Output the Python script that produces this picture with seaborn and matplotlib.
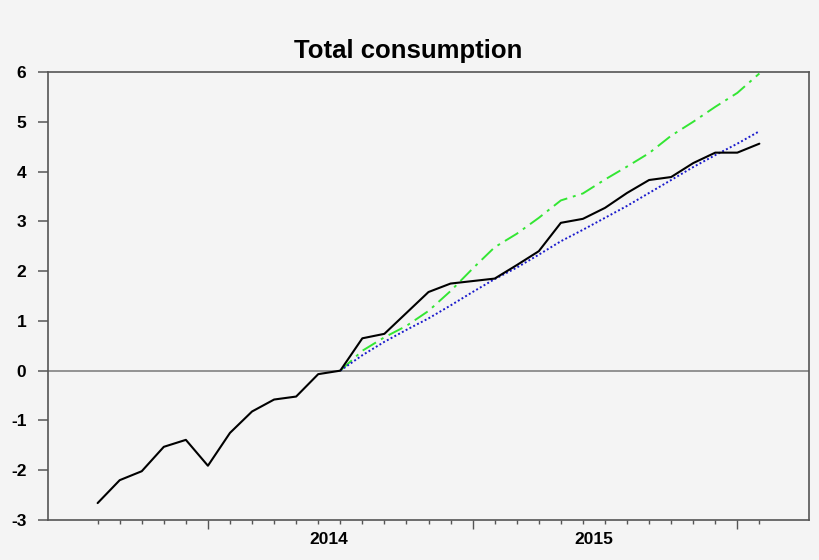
import numpy as np
import pandas as pd
import seaborn as sns
from matplotlib import pyplot as plt
from matplotlib import transforms

# monthly observations, Aug 2013 .. Feb 2016
months = pd.date_range('2013-08-01', '2016-02-01', freq='MS')

actual = [-2.66, -2.20, -2.02, -1.53, -1.39, -1.91, -1.25, -0.82, -0.58, -0.52,
          -0.07, 0.00, 0.65, 0.74, 1.16, 1.58, 1.75, 1.80, 1.85, 2.12,
          2.40, 2.97, 3.05, 3.27, 3.57, 3.83, 3.89, 4.17, 4.38, 4.38, 4.56]

# projections start at Jul 2014
proj_start = 11
proj_green = [0.00, 0.40, 0.67, 0.90, 1.20, 1.60, 2.05, 2.48, 2.75, 3.07,
              3.42, 3.56, 3.84, 4.10, 4.37, 4.72, 5.00, 5.30, 5.58, 5.97]
proj_blue = [0.00, 0.31, 0.58, 0.82, 1.05, 1.31, 1.58, 1.84, 2.07, 2.33,
             2.60, 2.83, 3.07, 3.31, 3.57, 3.83, 4.09, 4.33, 4.56, 4.81]

year_labels = ['2014', '2015']
y_ticks = [-3, -2, -1, 0, 1, 2, 3, 4, 5, 6]

bg = '#f4f4f4'
sns.set_theme(style='white')
plt.rcParams['font.family'] = ['Liberation Sans', 'DejaVu Sans']
plt.rcParams['axes.unicode_minus'] = False
plt.rcParams['text.color'] = 'black'

idx = np.arange(len(months))
df_act = pd.DataFrame({'t': idx, 'value': actual})
df_green = pd.DataFrame({'t': idx[proj_start:], 'value': proj_green})
df_blue = pd.DataFrame({'t': idx[proj_start:], 'value': proj_blue})

fig = plt.figure(figsize=(8.2, 5.6), dpi=100, facecolor=bg)
ax = fig.add_axes([48 / 820, 1 - 520 / 560, (809 - 48) / 820, (520 - 72) / 560])
ax.set_facecolor(bg)

ax.axhline(0, color='#8a8a8a', lw=1.3, zorder=1)
sns.lineplot(data=df_green, x='t', y='value', ax=ax, color='#33e633', lw=1.4,
             zorder=3)
ax.lines[-1].set_dashes([8, 3, 1.5, 3])
sns.lineplot(data=df_blue, x='t', y='value', ax=ax, color='#1a1acc', lw=1.4,
             zorder=3)
ax.lines[-1].set_dashes([1, 1.2])
sns.lineplot(data=df_act, x='t', y='value', ax=ax, color='black', lw=1.5,
             zorder=4)

ax.set_xlim(-2.25, 32.25)
ax.set_ylim(-3, 6)
ax.set_xlabel('')
ax.set_ylabel('')

# january marks long, other months short
jan = [i for i, m in enumerate(months) if m.month == 1]
other = [i for i, m in enumerate(months) if m.month != 1]
ax.set_xticks(jan)
ax.set_xticklabels([])
ax.set_xticks(other, minor=True)
ax.tick_params(axis='x', which='major', direction='out', length=6.5, width=1,
               color='#555555', bottom=True)
ax.tick_params(axis='x', which='minor', direction='out', length=3, width=1,
               color='#555555', bottom=True)

ax.set_yticks(y_ticks)
ax.set_yticklabels([str(v) for v in y_ticks], fontweight='bold', fontsize=12.5)
ax.tick_params(axis='y', direction='out', length=7.5, width=1.1,
               color='#555555', left=True, pad=8, labelcolor='black')

# year labels centred on each year's months
trans = transforms.blended_transform_factory(ax.transData, ax.transAxes)
for lab in year_labels:
    pos = [i for i, m in enumerate(months) if str(m.year) == lab]
    ax.text(np.mean(pos), -0.027, lab, transform=trans, ha='center', va='top',
            fontsize=12.5, fontweight='bold', color='black')

for s in ax.spines.values():
    s.set_color('#555555')
    s.set_linewidth(1.2)

fig.text(0.498, 1 - 58 / 560, 'Total consumption', ha='center',
         va='baseline', fontsize=18.5, fontweight='bold', color='black')

fig.savefig('out.png', dpi=100, facecolor=bg)
